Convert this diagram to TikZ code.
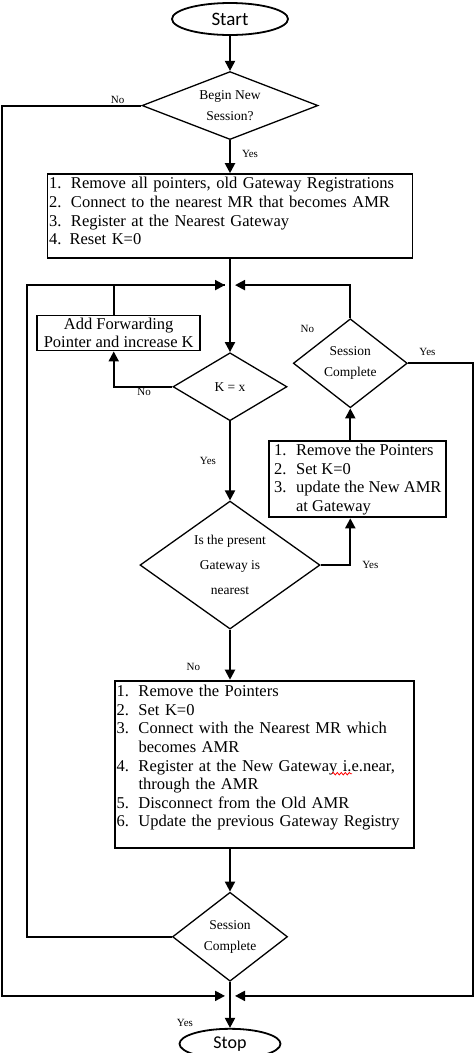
\documentclass[tikz,border=0pt]{standalone}
\usepackage{fontspec}
\setmainfont{Liberation Serif}
\newfontfamily\termfont{Carlito}
\usetikzlibrary{shapes.geometric, arrows.meta, positioning, decorations.pathmorphing}

\newcommand{\stepnum}[2]{\mbox{\makebox[22pt][l]{#1}#2}}

\begin{document}
\begin{tikzpicture}[
    terminal/.style={ellipse, draw, line width=1.8pt, inner sep=0pt, font=\termfont\fontsize{19}{22}\selectfont},
    decision/.style={diamond, draw, line width=1.3pt, inner sep=0pt, align=center, font=\fontsize{13.5}{21}\selectfont},
    process/.style={rectangle, draw, line width=1.9pt, inner xsep=1.5pt, inner ysep=0pt, align=left, font=\fontsize{16.5}{18.6}\selectfont},
    line/.style={line width=2pt},
    arrow/.style={line, -{Triangle[length=10pt, width=10pt]}},
    lbl/.style={font=\fontsize{11}{12}\selectfont, inner sep=1pt},
    spellmark/.style={red, line width=0.8pt, decorate, decoration={snake, amplitude=1.2pt, segment length=4pt}}
]
    \useasboundingbox (0,0) rectangle (474pt,-1053pt);

    \node[terminal, minimum width=116pt, minimum height=32pt] (start) at (230pt,-19pt) {Start};
    \node[decision, aspect=2.6, minimum width=176pt, minimum height=68pt, below=35pt of start] (begin) {Begin New\\Session?};
    \node[process, text width=362pt, minimum height=84pt, below=33pt of begin] (box1) {%
        \stepnum{1.}{Remove all pointers, old Gateway Registrations}\\
        \stepnum{2.}{Connect to the nearest MR that becomes AMR}\\
        \stepnum{3.}{Register at the Nearest Gateway}\\
        \mbox{4. Reset K=0}\\[-8.6pt]\mbox{}};
    \coordinate[below=26pt of box1] (junc);
    \node[decision, aspect=1.7, minimum width=114pt, minimum height=68pt, below=67pt of junc] (kx) {K = x};
    \node[process, align=center, minimum width=163pt, minimum height=35pt, font=\fontsize{16.5}{18}\selectfont, above left=18pt and 0pt of kx] (fwd) {Add Forwarding\\Pointer and increase K};
    \node[decision, aspect=1.3, minimum width=114pt, minimum height=89pt, right=5pt of kx, yshift=23.5pt] (sc1) {Session\\Complete};
    \node[process, minimum width=177pt, minimum height=76pt, below=32pt of sc1, xshift=7.5pt] (box2) {%
        \stepnum{1.}{Remove the Pointers}\\
        \stepnum{2.}{Set K=0}\\
        \stepnum{3.}{update the New AMR}\\
        \stepnum{}{at Gateway}};
    \node[decision, aspect=1.4, minimum width=180pt, minimum height=128pt, font=\fontsize{13.5}{25}\selectfont, below=79pt of kx] (gw) {Is the present\\Gateway is\\nearest};
    \node[process, text width=296pt, minimum height=167pt, below=50pt of gw, xshift=34.5pt] (box3) {%
        \stepnum{1.}{Remove the Pointers}\\
        \stepnum{2.}{Set K=0}\\
        \stepnum{3.}{Connect with the Nearest MR which}\\
        \stepnum{}{becomes AMR}\\
        \stepnum{4.}{Register at the New Gateway i.e.near,}\\
        \stepnum{}{through the AMR}\\
        \stepnum{5.}{Disconnect from the Old AMR}\\
        \stepnum{6.}{Update the previous Gateway Registry}\\[-2.6pt]\mbox{}};
    \node[decision, aspect=1.3, minimum width=115pt, minimum height=89pt, below=43pt of box3, xshift=-34.5pt] (sc2) {Session\\Complete};
    \coordinate[below=14pt of sc2] (merge);
    \node[terminal, minimum width=101pt, minimum height=30pt, font=\termfont\fontsize{18}{20}\selectfont, below=32pt of merge] (stop) {Stop};

    % spell-check mark under "i.e."
    \draw[spellmark] ([xshift=218pt, yshift=-94pt]box3.north west) -- ++(20pt,0);

    % main column
    \draw[arrow] (start) -- (begin);
    \draw[arrow] (begin) -- node[lbl, right=10pt, pos=0.42] {Yes} (box1);
    \draw[line] (box1) -- (junc);
    \draw[arrow] (junc) -- (kx);
    \draw[arrow] (kx) -- node[lbl, left=12pt] {Yes} (gw);
    \draw[arrow] (gw.south) -- node[lbl, left=28pt, pos=0.74] {No} (gw.south |- box3.north);
    \draw[arrow] (sc2.north |- box3.south) -- (sc2.north);
    \draw[line] (sc2.south) -- (merge);
    \draw[arrow] (merge) -- node[lbl, left=35pt, pos=0.85] {Yes} (stop);

    % loops back to the junction
    \draw[arrow] (kx.west) -| node[lbl, below, pos=0.24] {No} ([xshift=-5pt]fwd.south);
    \draw[line, shorten >=5pt] ([xshift=-5pt]fwd.north) |- (junc);
    \draw[arrow, shorten >=5pt] (sc2.west) -- ++(-144.5pt,0) |- (junc);
    \draw[arrow, shorten >=5pt] (sc1.north) node[lbl, xshift=-43pt, yshift=-11pt] {No} |- (junc);
    \draw[arrow] (gw.east) -| node[lbl, pos=0.5, right=10pt] {Yes} (sc1.south |- box2.south);
    \draw[arrow] (sc1.south |- box2.north) -- (sc1.south);

    % outer rails to the stop
    \draw[arrow, shorten >=5pt] (begin.west) -- node[lbl, above, pos=0.17] {No} ++(-139pt,0) |- (merge);
    \draw[arrow, shorten >=5pt] (sc1.east) -- node[lbl, above=6pt, pos=0.3] {Yes} ++(65pt,0) |- (merge);
\end{tikzpicture}
\end{document}
